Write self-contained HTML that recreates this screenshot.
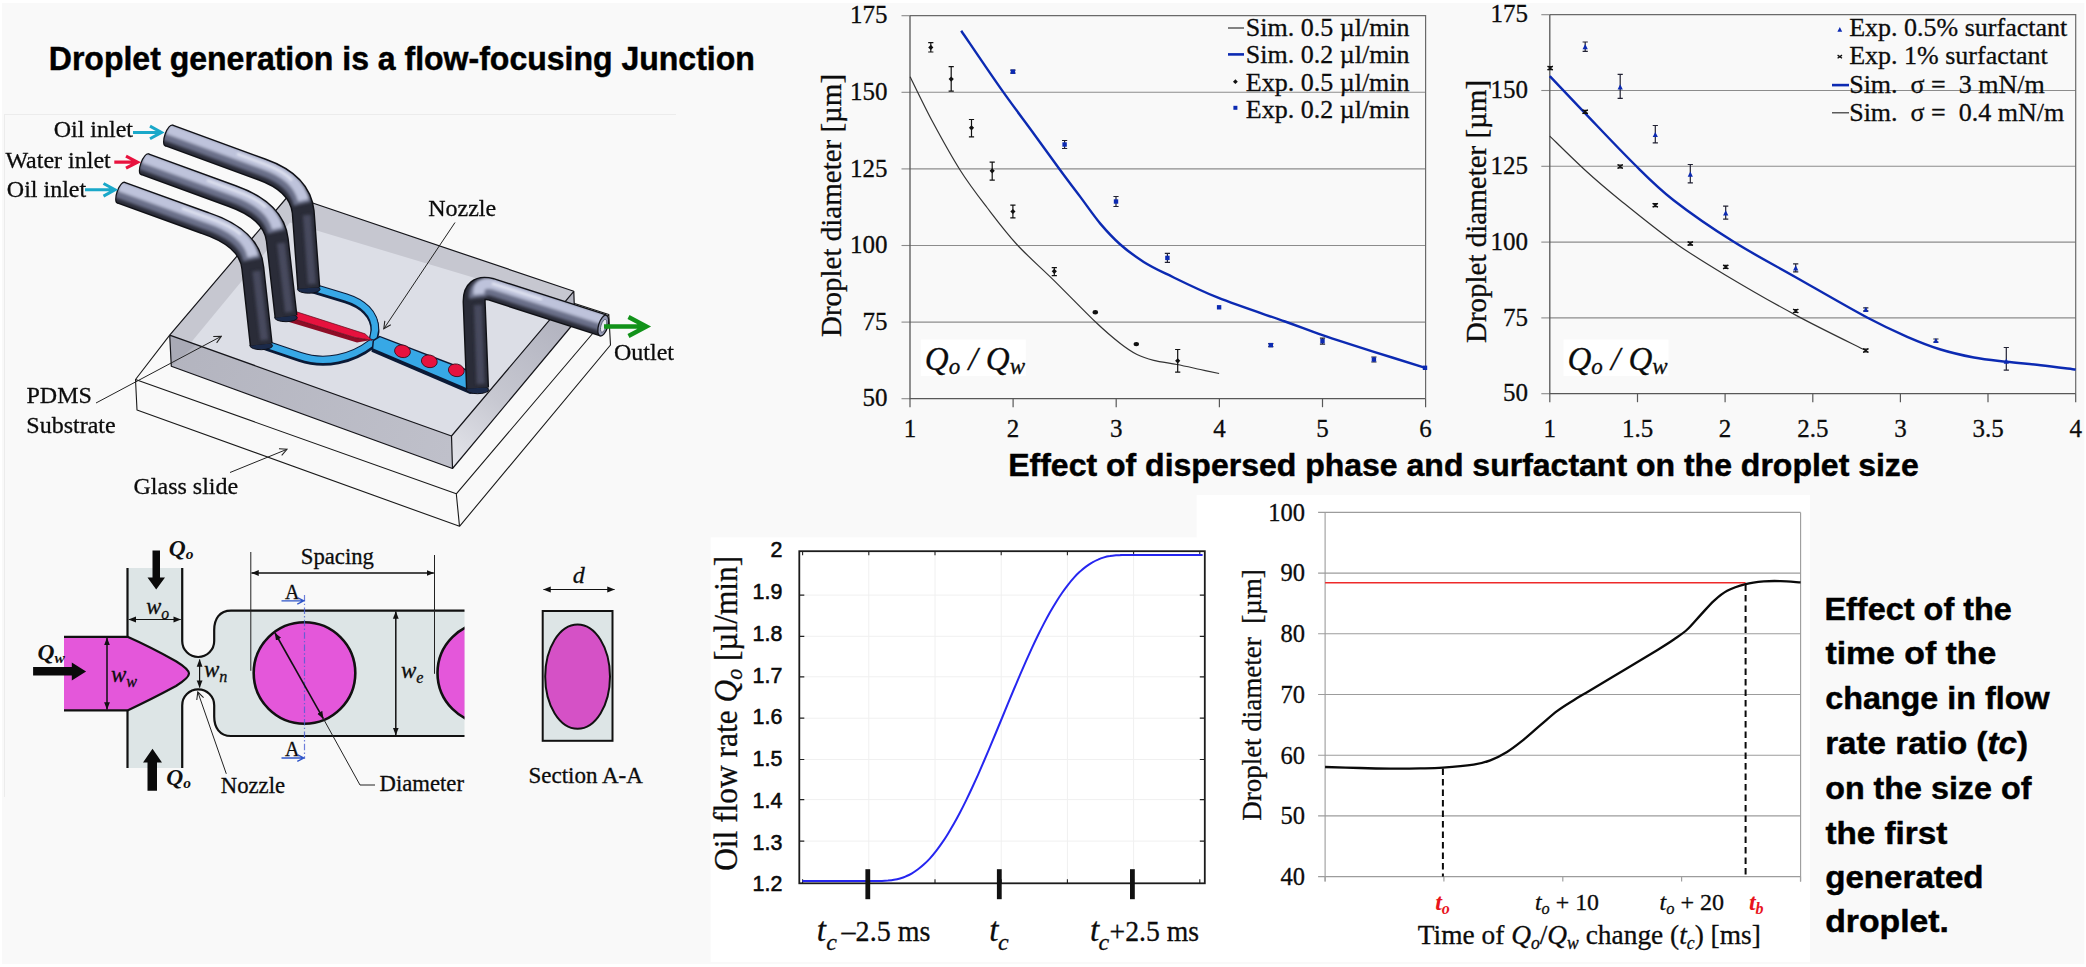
<!DOCTYPE html>
<html lang="en"><head><meta charset="utf-8"><title>Droplet generation in a flow-focusing junction</title>
<style>
html,body{margin:0;padding:0;background:#f9f9f9;}
body{width:2086px;height:967px;overflow:hidden;position:relative;}
svg{position:absolute;left:0;top:0;display:block;}
text{white-space:pre;}
.se{font-family:"Liberation Serif","DejaVu Serif",serif;fill:#0c0c0c;stroke:#0c0c0c;stroke-width:0.3px;}
.si{font-family:"Liberation Serif","DejaVu Serif",serif;font-style:italic;fill:#0c0c0c;stroke:#0c0c0c;stroke-width:0.3px;}
.sbi{font-family:"Liberation Serif","DejaVu Serif",serif;font-style:italic;font-weight:bold;fill:#111;}
.sa{font-family:"Liberation Sans","DejaVu Sans",sans-serif;font-weight:bold;fill:#000;stroke:#000;stroke-width:0.45px;}
.sai{font-family:"Liberation Sans","DejaVu Sans",sans-serif;font-weight:bold;font-style:italic;fill:#000;}
</style></head><body>
<svg width="2086" height="967" viewBox="0 0 2086 967">
<defs>
<marker id="ah" viewBox="0 0 10 10" refX="9.5" refY="5" markerWidth="7.6" markerHeight="8" orient="auto-start-reverse" markerUnits="userSpaceOnUse"><path d="M0,1.2 L10,5 L0,8.8 z" fill="#111"/></marker>
<marker id="aho" viewBox="0 0 10 10" refX="9" refY="5" markerWidth="9" markerHeight="9" orient="auto-start-reverse" markerUnits="userSpaceOnUse"><path d="M1,1 L9,5 L1,9" fill="none" stroke="#222" stroke-width="1.2"/></marker>
<linearGradient id="tubeV" x1="0" x2="1" y1="0" y2="0"><stop offset="0" stop-color="#23252f"/><stop offset="0.45" stop-color="#3a3d4c"/><stop offset="0.8" stop-color="#6e7389"/><stop offset="1" stop-color="#3b3e4d"/></linearGradient>
</defs>
<rect x="0" y="0" width="2086" height="967" fill="#ffffff"/>
<rect x="2" y="3" width="2082.3" height="961" fill="#f9f9f9"/>
<rect x="4" y="114" width="672" height="1" fill="#ececec"/>
<rect x="4" y="114" width="1" height="683" fill="#ececec"/>
<rect x="710.7" y="537.4" width="500" height="424.6" fill="#ffffff"/>
<rect x="1196.7" y="495" width="613.3" height="467" fill="#ffffff"/>
<text x="48.8" y="70.0" font-size="32.5" class="sa" textLength="706.0" lengthAdjust="spacingAndGlyphs" >Droplet generation is a flow-focusing Junction</text>
<text x="1008.2" y="476.0" font-size="31.8" class="sa" textLength="910.5" lengthAdjust="spacingAndGlyphs" >Effect of dispersed phase and surfactant on the droplet size</text>
<text x="1824.4" y="619.6" font-size="31.8" class="sa" textLength="187.5" lengthAdjust="spacingAndGlyphs" >Effect of the</text>
<text x="1825.4" y="664.4" font-size="31.8" class="sa" textLength="170.9" lengthAdjust="spacingAndGlyphs" >time of the</text>
<text x="1825.2" y="709.2" font-size="31.8" class="sa" textLength="224.4" lengthAdjust="spacingAndGlyphs" >change in flow</text>
<text x="1825.2" y="753.8" font-size="31.8" class="sa" textLength="202.8" lengthAdjust="spacingAndGlyphs">rate ratio (<tspan font-style="italic">tc</tspan>)</text>
<text x="1825.2" y="798.9" font-size="31.8" class="sa" textLength="206.2" lengthAdjust="spacingAndGlyphs" >on the size of</text>
<text x="1825.4" y="843.7" font-size="31.8" class="sa" textLength="122.0" lengthAdjust="spacingAndGlyphs" >the first</text>
<text x="1825.2" y="888.1" font-size="31.8" class="sa" textLength="158.4" lengthAdjust="spacingAndGlyphs" >generated</text>
<text x="1825.2" y="932.4" font-size="31.8" class="sa" textLength="123.8" lengthAdjust="spacingAndGlyphs" >droplet.</text>
<line x1="901.5" x2="910.0" y1="15.7" y2="15.7" stroke="#8a8a8a" stroke-width="1.1"/>
<text x="887.4" y="23.3" font-size="25" class="se" text-anchor="end" >175</text>
<line x1="910.0" x2="1425.6" y1="92.3" y2="92.3" stroke="#8c8c8c" stroke-width="1.1"/>
<line x1="901.5" x2="910.0" y1="92.3" y2="92.3" stroke="#8a8a8a" stroke-width="1.1"/>
<text x="887.4" y="99.9" font-size="25" class="se" text-anchor="end" >150</text>
<line x1="910.0" x2="1425.6" y1="168.9" y2="168.9" stroke="#8c8c8c" stroke-width="1.1"/>
<line x1="901.5" x2="910.0" y1="168.9" y2="168.9" stroke="#8a8a8a" stroke-width="1.1"/>
<text x="887.4" y="176.5" font-size="25" class="se" text-anchor="end" >125</text>
<line x1="910.0" x2="1425.6" y1="245.5" y2="245.5" stroke="#8c8c8c" stroke-width="1.1"/>
<line x1="901.5" x2="910.0" y1="245.5" y2="245.5" stroke="#8a8a8a" stroke-width="1.1"/>
<text x="887.4" y="253.1" font-size="25" class="se" text-anchor="end" >100</text>
<line x1="910.0" x2="1425.6" y1="322.1" y2="322.1" stroke="#8c8c8c" stroke-width="1.1"/>
<line x1="901.5" x2="910.0" y1="322.1" y2="322.1" stroke="#8a8a8a" stroke-width="1.1"/>
<text x="887.4" y="329.7" font-size="25" class="se" text-anchor="end" >75</text>
<line x1="901.5" x2="910.0" y1="398.7" y2="398.7" stroke="#8a8a8a" stroke-width="1.1"/>
<text x="887.4" y="406.3" font-size="25" class="se" text-anchor="end" >50</text>
<path d="M910.0,15.7 H1425.6 V398.7" fill="none" stroke="#6a6a6a" stroke-width="1.2"/>
<path d="M910.0,15.7 V398.7 H1425.6" fill="none" stroke="#585858" stroke-width="1.3"/>
<line x1="910.0" x2="910.0" y1="398.7" y2="407.2" stroke="#585858" stroke-width="1.2"/>
<text x="910.0" y="436.8" font-size="25" class="se" text-anchor="middle" >1</text>
<line x1="1013.1" x2="1013.1" y1="398.7" y2="407.2" stroke="#585858" stroke-width="1.2"/>
<text x="1013.1" y="436.8" font-size="25" class="se" text-anchor="middle" >2</text>
<line x1="1116.2" x2="1116.2" y1="398.7" y2="407.2" stroke="#585858" stroke-width="1.2"/>
<text x="1116.2" y="436.8" font-size="25" class="se" text-anchor="middle" >3</text>
<line x1="1219.4" x2="1219.4" y1="398.7" y2="407.2" stroke="#585858" stroke-width="1.2"/>
<text x="1219.4" y="436.8" font-size="25" class="se" text-anchor="middle" >4</text>
<line x1="1322.5" x2="1322.5" y1="398.7" y2="407.2" stroke="#585858" stroke-width="1.2"/>
<text x="1322.5" y="436.8" font-size="25" class="se" text-anchor="middle" >5</text>
<line x1="1425.6" x2="1425.6" y1="398.7" y2="407.2" stroke="#585858" stroke-width="1.2"/>
<text x="1425.6" y="436.8" font-size="25" class="se" text-anchor="middle" >6</text>
<text transform="translate(840.5,205.5) rotate(-90)" font-size="29" class="se" text-anchor="middle">Droplet diameter [µm]</text>
<rect x="920.8" y="339.5" width="105" height="36.5" fill="#fff"/>
<text x="924.8" y="370.0" font-size="33" class="si"><tspan>Q</tspan><tspan font-size="23" dy="4">o</tspan><tspan dy="-4"> / Q</tspan><tspan font-size="23" dy="4">w</tspan></text>
<path d="M910.1,76.7 C913.9,84.3 924.6,106.9 933.0,122.5 C941.4,138.1 951.2,156.0 960.2,170.2 C969.2,184.4 977.5,195.1 987.0,207.5 C996.5,219.9 1005.8,232.4 1016.9,244.5 C1028.0,256.6 1040.5,267.2 1053.6,280.1 C1066.7,293.0 1084.2,311.2 1095.3,321.8 C1106.4,332.4 1113.3,338.1 1120.3,343.5 C1127.2,348.9 1131.4,351.7 1137.0,354.5 C1142.6,357.3 1147.0,358.6 1153.7,360.3 C1160.4,362.0 1169.2,363.0 1177.0,364.5 C1184.8,366.0 1193.4,368.0 1200.4,369.5 C1207.4,371.0 1216.0,372.8 1219.1,373.5" fill="none" stroke="#333" stroke-width="1.2"/>
<path d="M961.2,30.7 C968.0,40.6 989.8,73.0 1001.9,90.1 C1014.0,107.2 1023.9,120.2 1033.6,133.5 C1043.3,146.8 1052.5,159.6 1060.3,170.2 C1068.1,180.8 1073.6,188.0 1080.3,196.9 C1087.0,205.8 1093.6,215.7 1100.3,223.6 C1107.0,231.5 1113.1,238.1 1120.3,244.5 C1127.5,250.9 1135.9,256.9 1143.7,261.9 C1151.5,266.8 1154.6,268.2 1167.0,274.2 C1179.4,280.2 1198.3,289.8 1218.0,297.7 C1237.7,305.6 1267.6,315.3 1285.0,321.5 C1302.4,327.7 1307.7,330.1 1322.5,335.1 C1337.3,340.2 1356.8,346.4 1373.9,351.8 C1391.0,357.2 1416.7,365.1 1425.3,367.8" fill="none" stroke="#0c2ab2" stroke-width="2.4" stroke-linejoin="round"/>
<path d="M930.8,42.7 V52.0 M928.2,42.7 h5.2 M928.2,52.0 h5.2" stroke="#111" stroke-width="1.2" fill="none"/>
<path d="M928.2,47.4 l2.6,-2.6 l2.6,2.6 l-2.6,2.6 z" fill="#111"/>
<path d="M951.2,66.7 V91.1 M948.6,66.7 h5.2 M948.6,91.1 h5.2" stroke="#111" stroke-width="1.2" fill="none"/>
<path d="M948.6,79.1 l2.6,-2.6 l2.6,2.6 l-2.6,2.6 z" fill="#111"/>
<path d="M971.5,119.5 V136.8 M968.9,119.5 h5.2 M968.9,136.8 h5.2" stroke="#111" stroke-width="1.2" fill="none"/>
<path d="M968.9,127.8 l2.6,-2.6 l2.6,2.6 l-2.6,2.6 z" fill="#111"/>
<path d="M992.2,162.2 V180.2 M989.6,162.2 h5.2 M989.6,180.2 h5.2" stroke="#111" stroke-width="1.2" fill="none"/>
<path d="M989.6,170.8 l2.6,-2.6 l2.6,2.6 l-2.6,2.6 z" fill="#111"/>
<path d="M1012.9,205.2 V217.9 M1010.3,205.2 h5.2 M1010.3,217.9 h5.2" stroke="#111" stroke-width="1.2" fill="none"/>
<path d="M1010.3,211.5 l2.6,-2.6 l2.6,2.6 l-2.6,2.6 z" fill="#111"/>
<path d="M1054.3,267.6 V275.6 M1051.7,267.6 h5.2 M1051.7,275.6 h5.2" stroke="#111" stroke-width="1.2" fill="none"/>
<path d="M1051.7,271.3 l2.6,-2.6 l2.6,2.6 l-2.6,2.6 z" fill="#111"/>
<ellipse cx="1095.3" cy="312.3" rx="2.7" ry="2.2" fill="#111"/>
<ellipse cx="1136.3" cy="344.1" rx="2.7" ry="2.2" fill="#111"/>
<path d="M1177.7,349.5 V372.2 M1175.1,349.5 h5.2 M1175.1,372.2 h5.2" stroke="#111" stroke-width="1.2" fill="none"/>
<path d="M1175.1,360.8 l2.6,-2.6 l2.6,2.6 l-2.6,2.6 z" fill="#111"/>
<path d="M1012.9,70.2 V73.2 M1010.3,70.2 h5.2 M1010.3,73.2 h5.2" stroke="#223" stroke-width="1.2" fill="none"/>
<rect x="1010.7" y="69.5" width="4.4" height="4.4" fill="#0c2ab2"/>
<path d="M1064.6,140.5 V148.5 M1062.0,140.5 h5.2 M1062.0,148.5 h5.2" stroke="#223" stroke-width="1.2" fill="none"/>
<rect x="1062.4" y="142.3" width="4.4" height="4.4" fill="#0c2ab2"/>
<path d="M1116.0,196.5 V206.5 M1113.4,196.5 h5.2 M1113.4,206.5 h5.2" stroke="#223" stroke-width="1.2" fill="none"/>
<rect x="1113.8" y="199.3" width="4.4" height="4.4" fill="#0c2ab2"/>
<path d="M1167.4,253.4 V262.4 M1164.8,253.4 h5.2 M1164.8,262.4 h5.2" stroke="#223" stroke-width="1.2" fill="none"/>
<rect x="1165.2" y="255.7" width="4.4" height="4.4" fill="#0c2ab2"/>
<rect x="1216.9" y="305.1" width="4.4" height="4.4" fill="#0c2ab2"/>
<path d="M1270.8,343.6 V346.6 M1268.2,343.6 h5.2 M1268.2,346.6 h5.2" stroke="#223" stroke-width="1.2" fill="none"/>
<rect x="1268.6" y="342.9" width="4.4" height="4.4" fill="#0c2ab2"/>
<path d="M1322.5,338.1 V344.1 M1319.9,338.1 h5.2 M1319.9,344.1 h5.2" stroke="#223" stroke-width="1.2" fill="none"/>
<rect x="1320.3" y="338.9" width="4.4" height="4.4" fill="#0c2ab2"/>
<path d="M1373.9,357.0 V362.0 M1371.3,357.0 h5.2 M1371.3,362.0 h5.2" stroke="#223" stroke-width="1.2" fill="none"/>
<rect x="1371.7" y="357.3" width="4.4" height="4.4" fill="#0c2ab2"/>
<rect x="1422.8" y="365.6" width="4.4" height="4.4" fill="#0c2ab2"/>
<text x="1245.8" y="36.0" font-size="26" class="se" >Sim. 0.5 µl/min</text>
<text x="1245.8" y="63.3" font-size="26" class="se" >Sim. 0.2 µl/min</text>
<text x="1245.8" y="90.6" font-size="26" class="se" >Exp. 0.5 µl/min</text>
<text x="1245.8" y="117.9" font-size="26" class="se" >Exp. 0.2 µl/min</text>
<line x1="1228" x2="1244" y1="28" y2="28" stroke="#333" stroke-width="1.2"/>
<line x1="1228" x2="1244" y1="54.4" y2="54.4" stroke="#0c2ab2" stroke-width="2.6"/>
<path d="M1233.0,81.7 l2.4,-2.4 l2.4,2.4 l-2.4,2.4 z" fill="#111"/>
<rect x="1233.4" y="105.8" width="4.0" height="4.0" fill="#0c2ab2"/>
<line x1="1541.3" x2="1549.8" y1="14.7" y2="14.7" stroke="#8a8a8a" stroke-width="1.1"/>
<text x="1528.0" y="22.3" font-size="25" class="se" text-anchor="end" >175</text>
<line x1="1549.8" x2="2075.7" y1="90.5" y2="90.5" stroke="#8c8c8c" stroke-width="1.1"/>
<line x1="1541.3" x2="1549.8" y1="90.5" y2="90.5" stroke="#8a8a8a" stroke-width="1.1"/>
<text x="1528.0" y="98.1" font-size="25" class="se" text-anchor="end" >150</text>
<line x1="1549.8" x2="2075.7" y1="166.3" y2="166.3" stroke="#8c8c8c" stroke-width="1.1"/>
<line x1="1541.3" x2="1549.8" y1="166.3" y2="166.3" stroke="#8a8a8a" stroke-width="1.1"/>
<text x="1528.0" y="173.9" font-size="25" class="se" text-anchor="end" >125</text>
<line x1="1549.8" x2="2075.7" y1="242.1" y2="242.1" stroke="#8c8c8c" stroke-width="1.1"/>
<line x1="1541.3" x2="1549.8" y1="242.1" y2="242.1" stroke="#8a8a8a" stroke-width="1.1"/>
<text x="1528.0" y="249.7" font-size="25" class="se" text-anchor="end" >100</text>
<line x1="1549.8" x2="2075.7" y1="317.9" y2="317.9" stroke="#8c8c8c" stroke-width="1.1"/>
<line x1="1541.3" x2="1549.8" y1="317.9" y2="317.9" stroke="#8a8a8a" stroke-width="1.1"/>
<text x="1528.0" y="325.5" font-size="25" class="se" text-anchor="end" >75</text>
<line x1="1541.3" x2="1549.8" y1="393.7" y2="393.7" stroke="#8a8a8a" stroke-width="1.1"/>
<text x="1528.0" y="401.3" font-size="25" class="se" text-anchor="end" >50</text>
<path d="M1549.8,14.7 H2075.7 V393.7" fill="none" stroke="#6a6a6a" stroke-width="1.2"/>
<path d="M1549.8,14.7 V393.7 H2075.7" fill="none" stroke="#585858" stroke-width="1.3"/>
<line x1="1549.8" x2="1549.8" y1="393.7" y2="402.2" stroke="#585858" stroke-width="1.2"/>
<text x="1549.8" y="437.2" font-size="25" class="se" text-anchor="middle" >1</text>
<line x1="1637.5" x2="1637.5" y1="393.7" y2="402.2" stroke="#585858" stroke-width="1.2"/>
<text x="1637.5" y="437.2" font-size="25" class="se" text-anchor="middle" >1.5</text>
<line x1="1725.1" x2="1725.1" y1="393.7" y2="402.2" stroke="#585858" stroke-width="1.2"/>
<text x="1725.1" y="437.2" font-size="25" class="se" text-anchor="middle" >2</text>
<line x1="1812.8" x2="1812.8" y1="393.7" y2="402.2" stroke="#585858" stroke-width="1.2"/>
<text x="1812.8" y="437.2" font-size="25" class="se" text-anchor="middle" >2.5</text>
<line x1="1900.4" x2="1900.4" y1="393.7" y2="402.2" stroke="#585858" stroke-width="1.2"/>
<text x="1900.4" y="437.2" font-size="25" class="se" text-anchor="middle" >3</text>
<line x1="1988.0" x2="1988.0" y1="393.7" y2="402.2" stroke="#585858" stroke-width="1.2"/>
<text x="1988.0" y="437.2" font-size="25" class="se" text-anchor="middle" >3.5</text>
<line x1="2075.7" x2="2075.7" y1="393.7" y2="402.2" stroke="#585858" stroke-width="1.2"/>
<text x="2075.7" y="437.2" font-size="25" class="se" text-anchor="middle" >4</text>
<text transform="translate(1486.3,211.5) rotate(-90)" font-size="29" class="se" text-anchor="middle">Droplet diameter [µm]</text>
<rect x="1563.5" y="339.5" width="105" height="36.5" fill="#fff"/>
<text x="1567.5" y="370.0" font-size="33" class="si"><tspan>Q</tspan><tspan font-size="23" dy="4">o</tspan><tspan dy="-4"> / Q</tspan><tspan font-size="23" dy="4">w</tspan></text>
<path d="M1549.8,136.1 C1555.7,141.8 1573.5,159.5 1585.2,170.2 C1596.9,180.9 1605.5,188.2 1620.2,200.2 C1634.9,212.1 1656.0,229.4 1673.6,241.9 C1691.2,254.4 1705.3,263.0 1725.7,275.2 C1746.1,287.4 1772.4,302.6 1795.7,315.1 C1819.0,327.7 1854.1,344.6 1865.8,350.5" fill="none" stroke="#333" stroke-width="1.2"/>
<path d="M1549.8,76.1 C1555.7,82.3 1571.2,98.8 1585.2,113.4 C1599.2,128.0 1618.9,149.0 1633.6,163.5 C1648.3,178.0 1656.9,187.1 1673.6,200.2 C1690.3,213.2 1713.3,229.0 1733.7,241.8 C1754.1,254.6 1773.5,264.6 1795.7,277.2 C1817.9,289.8 1848.5,307.6 1867.1,317.5 C1885.7,327.4 1895.0,331.5 1907.2,336.8 C1919.5,342.1 1929.5,346.1 1940.6,349.5 C1951.7,352.9 1963.0,355.4 1973.9,357.5 C1984.9,359.6 1995.2,360.5 2006.3,361.8 C2017.4,363.1 2029.1,363.9 2040.7,365.2 C2052.3,366.5 2069.9,368.8 2075.7,369.5" fill="none" stroke="#0c2ab2" stroke-width="2.4"/>
<path d="M1585.2,42.0 V51.4 M1582.6,42.0 h5.2 M1582.6,51.4 h5.2" stroke="#223" stroke-width="1.2" fill="none"/>
<path d="M1585.2,44.1 L1587.8,49.3 L1582.6,49.3 z" fill="#0c2ab2"/>
<path d="M1620.2,74.4 V98.4 M1617.6,74.4 h5.2 M1617.6,98.4 h5.2" stroke="#223" stroke-width="1.2" fill="none"/>
<path d="M1620.2,84.2 L1622.8,89.4 L1617.6,89.4 z" fill="#0c2ab2"/>
<path d="M1655.3,125.5 V142.8 M1652.7,125.5 h5.2 M1652.7,142.8 h5.2" stroke="#223" stroke-width="1.2" fill="none"/>
<path d="M1655.3,131.9 L1657.9,137.1 L1652.7,137.1 z" fill="#0c2ab2"/>
<path d="M1690.3,164.5 V182.9 M1687.7,164.5 h5.2 M1687.7,182.9 h5.2" stroke="#223" stroke-width="1.2" fill="none"/>
<path d="M1690.3,171.6 L1692.9,176.8 L1687.7,176.8 z" fill="#0c2ab2"/>
<path d="M1725.7,206.2 V219.2 M1723.1,206.2 h5.2 M1723.1,219.2 h5.2" stroke="#223" stroke-width="1.2" fill="none"/>
<path d="M1725.7,210.3 L1728.3,215.5 L1723.1,215.5 z" fill="#0c2ab2"/>
<path d="M1795.7,263.9 V271.9 M1793.1,263.9 h5.2 M1793.1,271.9 h5.2" stroke="#223" stroke-width="1.2" fill="none"/>
<path d="M1795.7,265.3 L1798.3,270.5 L1793.1,270.5 z" fill="#0c2ab2"/>
<path d="M1865.8,307.8 V310.8 M1863.2,307.8 h5.2 M1863.2,310.8 h5.2" stroke="#223" stroke-width="1.2" fill="none"/>
<path d="M1865.8,306.7 L1868.4,311.9 L1863.2,311.9 z" fill="#0c2ab2"/>
<path d="M1935.9,339.0 V342.0 M1933.3,339.0 h5.2 M1933.3,342.0 h5.2" stroke="#223" stroke-width="1.2" fill="none"/>
<path d="M1935.9,337.9 L1938.5,343.1 L1933.3,343.1 z" fill="#0c2ab2"/>
<path d="M2006.3,347.5 V370.2 M2003.7,347.5 h5.2 M2003.7,370.2 h5.2" stroke="#223" stroke-width="1.2" fill="none"/>
<path d="M2006.3,358.6 L2008.9,363.8 L2003.7,363.8 z" fill="#0c2ab2"/>
<path d="M1550.2,66.6 V69.6 M1547.6,66.6 h5.2 M1547.6,69.6 h5.2" stroke="#111" stroke-width="1.2" fill="none"/>
<path d="M1547.6,66.1 L1552.8,70.1 M1547.6,70.1 L1552.8,66.1" stroke="#111" stroke-width="1.3" fill="none"/>
<path d="M1585.2,110.3 V113.3 M1582.6,110.3 h5.2 M1582.6,113.3 h5.2" stroke="#111" stroke-width="1.2" fill="none"/>
<path d="M1582.6,109.8 L1587.8,113.8 M1582.6,113.8 L1587.8,109.8" stroke="#111" stroke-width="1.3" fill="none"/>
<path d="M1620.2,165.0 V168.0 M1617.6,165.0 h5.2 M1617.6,168.0 h5.2" stroke="#111" stroke-width="1.2" fill="none"/>
<path d="M1617.6,164.5 L1622.8,168.5 M1617.6,168.5 L1622.8,164.5" stroke="#111" stroke-width="1.3" fill="none"/>
<path d="M1655.3,203.7 V206.7 M1652.7,203.7 h5.2 M1652.7,206.7 h5.2" stroke="#111" stroke-width="1.2" fill="none"/>
<path d="M1652.7,203.2 L1657.9,207.2 M1652.7,207.2 L1657.9,203.2" stroke="#111" stroke-width="1.3" fill="none"/>
<path d="M1690.3,242.1 V245.1 M1687.7,242.1 h5.2 M1687.7,245.1 h5.2" stroke="#111" stroke-width="1.2" fill="none"/>
<path d="M1687.7,241.6 L1692.9,245.6 M1687.7,245.6 L1692.9,241.6" stroke="#111" stroke-width="1.3" fill="none"/>
<path d="M1725.7,265.4 V268.4 M1723.1,265.4 h5.2 M1723.1,268.4 h5.2" stroke="#111" stroke-width="1.2" fill="none"/>
<path d="M1723.1,264.9 L1728.3,268.9 M1723.1,268.9 L1728.3,264.9" stroke="#111" stroke-width="1.3" fill="none"/>
<path d="M1795.7,309.5 V312.5 M1793.1,309.5 h5.2 M1793.1,312.5 h5.2" stroke="#111" stroke-width="1.2" fill="none"/>
<path d="M1793.1,309.0 L1798.3,313.0 M1793.1,313.0 L1798.3,309.0" stroke="#111" stroke-width="1.3" fill="none"/>
<path d="M1865.8,349.0 V352.0 M1863.2,349.0 h5.2 M1863.2,352.0 h5.2" stroke="#111" stroke-width="1.2" fill="none"/>
<path d="M1863.2,348.5 L1868.4,352.5 M1863.2,352.5 L1868.4,348.5" stroke="#111" stroke-width="1.3" fill="none"/>
<text x="1849.2" y="36.0" font-size="26" class="se" >Exp. 0.5% surfactant</text>
<text x="1849.2" y="64.4" font-size="26" class="se" >Exp. 1% surfactant</text>
<text x="1849.2" y="92.8" font-size="26" class="se" >Sim.  σ =  3 mN/m</text>
<text x="1849.2" y="121.2" font-size="26" class="se" >Sim.  σ =  0.4 mN/m</text>
<path d="M1839.8,27.0 L1842.2,31.8 L1837.4,31.8 z" fill="#0c2ab2"/>
<path d="M1837.6,55.1 L1842.0,58.3 M1837.6,58.3 L1842.0,55.1" stroke="#111" stroke-width="1.3" fill="none"/>
<line x1="1832" x2="1849" y1="85.1" y2="85.1" stroke="#0c2ab2" stroke-width="2.6"/>
<line x1="1832" x2="1849" y1="112.8" y2="112.8" stroke="#333" stroke-width="1.2"/>
<text x="782.3" y="557.2" font-size="21.4" text-anchor="end" style="font-family:'Liberation Sans','DejaVu Sans',sans-serif;fill:#0a0a0a;stroke:#0a0a0a;stroke-width:0.55px">2</text>
<line x1="799.3" x2="1204.8" y1="595.1" y2="595.1" stroke="#f0f0f0" stroke-width="1"/>
<path d="M799.3,595.1 h5 M1204.8,595.1 h-5" stroke="#222" stroke-width="1.2"/>
<text x="782.3" y="599.0" font-size="21.4" text-anchor="end" style="font-family:'Liberation Sans','DejaVu Sans',sans-serif;fill:#0a0a0a;stroke:#0a0a0a;stroke-width:0.55px">1.9</text>
<line x1="799.3" x2="1204.8" y1="636.3" y2="636.3" stroke="#f0f0f0" stroke-width="1"/>
<path d="M799.3,636.3 h5 M1204.8,636.3 h-5" stroke="#222" stroke-width="1.2"/>
<text x="782.3" y="640.7" font-size="21.4" text-anchor="end" style="font-family:'Liberation Sans','DejaVu Sans',sans-serif;fill:#0a0a0a;stroke:#0a0a0a;stroke-width:0.55px">1.8</text>
<line x1="799.3" x2="1204.8" y1="676.8" y2="676.8" stroke="#f0f0f0" stroke-width="1"/>
<path d="M799.3,676.8 h5 M1204.8,676.8 h-5" stroke="#222" stroke-width="1.2"/>
<text x="782.3" y="682.5" font-size="21.4" text-anchor="end" style="font-family:'Liberation Sans','DejaVu Sans',sans-serif;fill:#0a0a0a;stroke:#0a0a0a;stroke-width:0.55px">1.7</text>
<line x1="799.3" x2="1204.8" y1="718.2" y2="718.2" stroke="#f0f0f0" stroke-width="1"/>
<path d="M799.3,718.2 h5 M1204.8,718.2 h-5" stroke="#222" stroke-width="1.2"/>
<text x="782.3" y="724.2" font-size="21.4" text-anchor="end" style="font-family:'Liberation Sans','DejaVu Sans',sans-serif;fill:#0a0a0a;stroke:#0a0a0a;stroke-width:0.55px">1.6</text>
<line x1="799.3" x2="1204.8" y1="759.5" y2="759.5" stroke="#f0f0f0" stroke-width="1"/>
<path d="M799.3,759.5 h5 M1204.8,759.5 h-5" stroke="#222" stroke-width="1.2"/>
<text x="782.3" y="766.0" font-size="21.4" text-anchor="end" style="font-family:'Liberation Sans','DejaVu Sans',sans-serif;fill:#0a0a0a;stroke:#0a0a0a;stroke-width:0.55px">1.5</text>
<line x1="799.3" x2="1204.8" y1="799.6" y2="799.6" stroke="#f0f0f0" stroke-width="1"/>
<path d="M799.3,799.6 h5 M1204.8,799.6 h-5" stroke="#222" stroke-width="1.2"/>
<text x="782.3" y="807.7" font-size="21.4" text-anchor="end" style="font-family:'Liberation Sans','DejaVu Sans',sans-serif;fill:#0a0a0a;stroke:#0a0a0a;stroke-width:0.55px">1.4</text>
<line x1="799.3" x2="1204.8" y1="841.1" y2="841.1" stroke="#f0f0f0" stroke-width="1"/>
<path d="M799.3,841.1 h5 M1204.8,841.1 h-5" stroke="#222" stroke-width="1.2"/>
<text x="782.3" y="849.5" font-size="21.4" text-anchor="end" style="font-family:'Liberation Sans','DejaVu Sans',sans-serif;fill:#0a0a0a;stroke:#0a0a0a;stroke-width:0.55px">1.3</text>
<text x="782.3" y="891.2" font-size="21.4" text-anchor="end" style="font-family:'Liberation Sans','DejaVu Sans',sans-serif;fill:#0a0a0a;stroke:#0a0a0a;stroke-width:0.55px">1.2</text>
<path d="M802.6,551.2 v4 M802.6,883.3 v-4" stroke="#222" stroke-width="1.1"/>
<line x1="868.8" x2="868.8" y1="551.2" y2="883.3" stroke="#f0f0f0" stroke-width="1"/>
<path d="M868.8,551.2 v4 M868.8,883.3 v-4" stroke="#222" stroke-width="1.1"/>
<line x1="935.0" x2="935.0" y1="551.2" y2="883.3" stroke="#f0f0f0" stroke-width="1"/>
<path d="M935.0,551.2 v4 M935.0,883.3 v-4" stroke="#222" stroke-width="1.1"/>
<line x1="1001.2" x2="1001.2" y1="551.2" y2="883.3" stroke="#f0f0f0" stroke-width="1"/>
<path d="M1001.2,551.2 v4 M1001.2,883.3 v-4" stroke="#222" stroke-width="1.1"/>
<line x1="1067.4" x2="1067.4" y1="551.2" y2="883.3" stroke="#f0f0f0" stroke-width="1"/>
<path d="M1067.4,551.2 v4 M1067.4,883.3 v-4" stroke="#222" stroke-width="1.1"/>
<line x1="1133.6" x2="1133.6" y1="551.2" y2="883.3" stroke="#f0f0f0" stroke-width="1"/>
<path d="M1133.6,551.2 v4 M1133.6,883.3 v-4" stroke="#222" stroke-width="1.1"/>
<path d="M1199.8,551.2 v4 M1199.8,883.3 v-4" stroke="#222" stroke-width="1.1"/>
<rect x="799.3" y="551.2" width="405.5" height="332.1" fill="none" stroke="#1c1c1c" stroke-width="1.8"/>
<path d="M802.4,880.9 C814.7,880.9 862.7,880.9 876.0,880.9 C889.3,880.9 880.0,880.9 882.0,880.9 C884.0,880.8 886.0,880.7 888.0,880.6 C890.0,880.4 892.0,880.2 894.0,879.8 C896.0,879.5 898.0,879.1 900.0,878.5 C902.0,877.9 904.0,877.2 906.0,876.3 C908.0,875.5 910.0,874.5 912.0,873.3 C914.0,872.2 916.0,870.8 918.0,869.3 C920.0,867.8 922.0,866.2 924.0,864.3 C926.0,862.5 928.0,860.5 930.0,858.3 C932.0,856.1 934.0,853.7 936.0,851.1 C938.0,848.6 940.0,845.8 942.0,842.9 C944.0,840.0 946.0,837.0 948.0,833.7 C950.0,830.5 952.0,827.1 954.0,823.6 C956.0,820.0 958.0,816.3 960.0,812.5 C962.0,808.7 964.0,804.7 966.0,800.6 C968.0,796.5 970.0,792.3 972.0,788.0 C974.0,783.7 976.0,779.3 978.0,774.8 C980.0,770.3 982.0,765.7 984.0,761.0 C986.0,756.4 988.0,751.6 990.0,746.9 C992.0,742.1 994.0,737.3 996.0,732.5 C998.0,727.7 1000.0,722.8 1002.0,718.0 C1004.0,713.1 1006.0,708.2 1008.0,703.4 C1010.0,698.6 1012.0,693.8 1014.0,689.0 C1016.0,684.3 1018.0,679.5 1020.0,674.9 C1022.0,670.2 1024.0,665.6 1026.0,661.1 C1028.0,656.6 1030.0,652.2 1032.0,647.9 C1034.0,643.6 1036.0,639.4 1038.0,635.3 C1040.0,631.2 1042.0,627.2 1044.0,623.4 C1046.0,619.6 1048.0,615.9 1050.0,612.3 C1052.0,608.8 1054.0,605.4 1056.0,602.2 C1058.0,598.9 1060.0,595.9 1062.0,593.0 C1064.0,590.1 1066.0,587.3 1068.0,584.8 C1070.0,582.2 1072.0,579.8 1074.0,577.6 C1076.0,575.4 1078.0,573.4 1080.0,571.6 C1082.0,569.7 1084.0,568.1 1086.0,566.6 C1088.0,565.1 1090.0,563.7 1092.0,562.6 C1094.0,561.4 1096.0,560.4 1098.0,559.6 C1100.0,558.7 1102.0,558.0 1104.0,557.4 C1106.0,556.8 1108.0,556.4 1110.0,556.1 C1112.0,555.7 1114.0,555.5 1116.0,555.3 C1118.0,555.2 1120.0,555.1 1122.0,555.0 C1124.0,555.0 1114.6,555.0 1128.0,555.0 C1141.4,555.0 1190.2,555.0 1202.6,555.0" fill="none" stroke="#2626f0" stroke-width="2"/>
<rect x="865.4" y="869.2" width="4.8" height="30" fill="#111"/>
<rect x="996.9" y="869.2" width="4.8" height="30" fill="#111"/>
<rect x="1130.0" y="869.2" width="4.8" height="30" fill="#111"/>
<text transform="translate(736.5,713.3) rotate(-90)" font-size="34.5" class="se" text-anchor="middle" textLength="315" lengthAdjust="spacingAndGlyphs">Oil flow rate <tspan font-style="italic">Q</tspan><tspan font-style="italic" font-size="24" dy="5">o</tspan><tspan dy="-5"> [µl/min]</tspan></text>
<text x="816.8" y="941.1" font-size="33" class="si">t</text><text x="826.3" y="949.9" font-size="24" class="si">c</text>
<text x="841.6" y="941.3" font-size="29" class="se" textLength="88.8" lengthAdjust="spacingAndGlyphs">–2.5 ms</text>
<text x="989.3" y="941.1" font-size="33" class="si">t</text><text x="998.0" y="949.9" font-size="24" class="si">c</text>
<text x="1089.9" y="941.1" font-size="33" class="si">t</text><text x="1098.6" y="949.9" font-size="24" class="si">c</text>
<text x="1109.6" y="941.3" font-size="29" class="se" textLength="89.4" lengthAdjust="spacingAndGlyphs">+2.5 ms</text>
<line x1="1318.1" x2="1800.6" y1="512.4" y2="512.4" stroke="#9c9c9c" stroke-width="1.1"/>
<text x="1305.0" y="520.7" font-size="24.5" class="se" text-anchor="end" >100</text>
<line x1="1318.1" x2="1800.6" y1="573.1" y2="573.1" stroke="#9c9c9c" stroke-width="1.1"/>
<text x="1305.0" y="581.4" font-size="24.5" class="se" text-anchor="end" >90</text>
<line x1="1318.1" x2="1800.6" y1="633.8" y2="633.8" stroke="#9c9c9c" stroke-width="1.1"/>
<text x="1305.0" y="642.1" font-size="24.5" class="se" text-anchor="end" >80</text>
<line x1="1318.1" x2="1800.6" y1="694.5" y2="694.5" stroke="#9c9c9c" stroke-width="1.1"/>
<text x="1305.0" y="702.8" font-size="24.5" class="se" text-anchor="end" >70</text>
<line x1="1318.1" x2="1800.6" y1="755.2" y2="755.2" stroke="#9c9c9c" stroke-width="1.1"/>
<text x="1305.0" y="763.5" font-size="24.5" class="se" text-anchor="end" >60</text>
<line x1="1318.1" x2="1800.6" y1="815.9" y2="815.9" stroke="#9c9c9c" stroke-width="1.1"/>
<text x="1305.0" y="824.2" font-size="24.5" class="se" text-anchor="end" >50</text>
<line x1="1318.1" x2="1800.6" y1="876.6" y2="876.6" stroke="#9c9c9c" stroke-width="1.1"/>
<text x="1305.0" y="884.9" font-size="24.5" class="se" text-anchor="end" >40</text>
<path d="M1325.1,512.4 V881.6 M1800.6,512.4 V881.6" stroke="#9c9c9c" stroke-width="1.1" fill="none"/>
<line x1="1325.1" x2="1325.1" y1="876.6" y2="881.6" stroke="#a0a0a0" stroke-width="1.2"/>
<line x1="1443.9" x2="1443.9" y1="876.6" y2="881.6" stroke="#a0a0a0" stroke-width="1.2"/>
<line x1="1562.8" x2="1562.8" y1="876.6" y2="881.6" stroke="#a0a0a0" stroke-width="1.2"/>
<line x1="1681.6" x2="1681.6" y1="876.6" y2="881.6" stroke="#a0a0a0" stroke-width="1.2"/>
<line x1="1800.5" x2="1800.5" y1="876.6" y2="881.6" stroke="#a0a0a0" stroke-width="1.2"/>
<line x1="1325.1" x2="1745.6" y1="582.8" y2="582.8" stroke="#ee2a2a" stroke-width="1.6"/>
<path d="M1442.9,768.6 V876.6 M1745.6,584.5 V875.5" stroke="#0a0a0a" stroke-width="2" stroke-dasharray="6.5,4" fill="none"/>
<path d="M1325.1,767.0 C1330.9,767.2 1349.2,767.7 1360.0,768.0 C1370.8,768.3 1380.2,768.5 1390.2,768.6 C1400.2,768.7 1411.2,768.6 1420.0,768.4 C1428.8,768.2 1434.0,768.2 1442.9,767.6 C1451.8,767.0 1465.7,765.8 1473.6,764.6 C1481.5,763.4 1484.7,762.4 1490.3,760.3 C1495.9,758.2 1501.4,755.3 1507.0,751.9 C1512.6,748.5 1518.1,744.0 1523.7,739.6 C1529.3,735.2 1534.9,729.9 1540.4,725.2 C1546.0,720.5 1551.5,715.4 1557.0,711.2 C1562.5,707.0 1568.1,703.7 1573.7,700.2 C1579.3,696.7 1582.1,695.2 1590.4,690.2 C1598.8,685.2 1612.7,676.9 1623.8,670.2 C1634.9,663.5 1648.8,655.3 1657.1,650.2 C1665.4,645.1 1668.8,643.0 1673.8,639.5 C1678.8,636.0 1682.8,633.6 1687.2,629.5 C1691.7,625.4 1696.0,619.9 1700.5,615.1 C1705.0,610.3 1709.5,604.8 1713.9,600.8 C1718.4,596.8 1721.9,593.6 1727.2,590.8 C1732.5,588.0 1739.5,585.7 1745.6,584.1 C1751.7,582.5 1758.1,581.9 1763.9,581.4 C1769.7,580.9 1774.5,580.9 1780.6,581.1 C1786.7,581.3 1797.3,582.2 1800.6,582.4" fill="none" stroke="#0a0a0a" stroke-width="2.3"/>
<text transform="translate(1261,695) rotate(-90)" font-size="27" class="se" text-anchor="middle">Droplet diameter  [µm]</text>
<text x="1435.2" y="909.6" font-size="24" class="sbi" style="fill:#e8141c"><tspan>t</tspan><tspan font-size="16" dy="4">o</tspan></text>
<text x="1748.9" y="909.6" font-size="24" class="sbi" style="fill:#e8141c"><tspan>t</tspan><tspan font-size="16" dy="4">b</tspan></text>
<text x="1535" y="909.5" font-size="23.5" class="se" textLength="64" lengthAdjust="spacingAndGlyphs"><tspan font-style="italic">t</tspan><tspan font-style="italic" font-size="16" dy="4.5">o</tspan><tspan dy="-4.5"> + 10</tspan></text>
<text x="1659.5" y="909.5" font-size="23.5" class="se" textLength="64.6" lengthAdjust="spacingAndGlyphs"><tspan font-style="italic">t</tspan><tspan font-style="italic" font-size="16" dy="4.5">o</tspan><tspan dy="-4.5"> + 20</tspan></text>
<text x="1417.8" y="944.2" font-size="28" class="se" textLength="343" lengthAdjust="spacingAndGlyphs">Time of <tspan font-style="italic">Q</tspan><tspan font-style="italic" font-size="18" dy="5">o</tspan><tspan dy="-5">/</tspan><tspan font-style="italic">Q</tspan><tspan font-style="italic" font-size="18" dy="5">w</tspan><tspan dy="-5"> change (</tspan><tspan font-style="italic">t</tspan><tspan font-style="italic" font-size="18" dy="5">c</tspan><tspan dy="-5">) [ms]</tspan></text>
<g id="schem">
<rect x="127.5" y="568" width="56" height="200" fill="#dde5e6"/>
<path d="M182.2,641 A16,16 0 0 0 214.2,641 V630 C214.2,619 219.5,610.6 231,610.6 H464.5 V736 H231 C219.5,736 214.2,727.5 214.2,716.5 V705.4 A16,16 0 0 0 182.2,705.4 z" fill="#dde5e6"/>
<path d="M64,636.8 H127.5 C137,641 163,654 176,661.2 C183,665.5 189,669.5 189,673.6 C189,677.7 183,681.7 176,686 C163,693 137,706 127.5,710.4 H64 z" fill="#e457da"/>
<path d="M64,636.8 H127.5 C137,641 163,654 176,661.2 C183,665.5 189,669.5 189,673.6 C189,677.7 183,681.7 176,686 C163,693 137,706 127.5,710.4 H64" fill="none" stroke="#111" stroke-width="2.2" stroke-linejoin="round"/>
<path d="M127.5,568 V636.8 M127.5,710.8 V768" stroke="#111" stroke-width="2.2" fill="none"/>
<path d="M182.2,568 V641 A16,16 0 0 0 214.2,641 V630 C214.2,619 219.5,610.6 231,610.6 H464.5" stroke="#111" stroke-width="2.2" fill="none"/>
<path d="M182.2,768 V705.4 A16,16 0 0 1 214.2,705.4 V716.5 C214.2,727.5 219.5,736 231,736 H464.5" stroke="#111" stroke-width="2.2" fill="none"/>
<clipPath id="clipch"><rect x="200" y="600" width="264.5" height="150"/></clipPath>
<g clip-path="url(#clipch)"><circle cx="304.5" cy="673" r="50.8" fill="#e457da" stroke="#111" stroke-width="2.6"/><circle cx="488.3" cy="673" r="50.8" fill="#e457da" stroke="#111" stroke-width="2.6"/></g>
<path d="M250.8,552 V670.8 M434.5,555 V673.8" stroke="#222" stroke-width="1" fill="none"/>
<line x1="251.5" x2="433.8" y1="573" y2="573" stroke="#111" stroke-width="1.5" marker-start="url(#ah)" marker-end="url(#ah)"/>
<text x="300.8" y="563.8" font-size="22.7" class="se" >Spacing</text>
<line x1="304.5" x2="304.5" y1="595" y2="758.8" stroke="#4a5fd2" stroke-opacity="0.8" stroke-width="1.2" stroke-dasharray="6.5,2.2,1.4,2.3"/>
<text x="285.0" y="598.8" font-size="20" class="se" >A</text>
<path d="M281.5,600.8 H303.5 M297.3,597.5 L303.8,600.8 L297.3,604.1" stroke="#2f55c8" stroke-width="1.35" fill="none"/>
<text x="285.0" y="756.3" font-size="20" class="se" >A</text>
<path d="M281.5,758.0 H303.5 M297.3,754.7 L303.8,758.0 L297.3,761.3" stroke="#2f55c8" stroke-width="1.35" fill="none"/>
<line x1="395.8" x2="395.8" y1="611.6" y2="735" stroke="#111" stroke-width="1.5" marker-start="url(#ah)" marker-end="url(#ah)"/>
<text x="401.0" y="677.5" font-size="23" class="si">w<tspan font-size="16.1" dy="5.0">e</tspan></text>
<text x="111.0" y="681.7" font-size="23" class="si">w<tspan font-size="16.1" dy="5.0">w</tspan></text>
<text x="146.3" y="613.8" font-size="22.5" class="si">w<tspan font-size="15.7" dy="5.5">o</tspan></text>
<text x="204.0" y="677.3" font-size="23" class="si">w<tspan font-size="16.1" dy="5.0">n</tspan></text>
<line x1="107" x2="107" y1="638" y2="709.4" stroke="#111" stroke-width="1.5" marker-start="url(#ah)" marker-end="url(#ah)"/>
<line x1="128.8" x2="180.7" y1="619.5" y2="619.5" stroke="#111" stroke-width="1.2" marker-start="url(#ah)" marker-end="url(#ah)"/>
<line x1="199.6" x2="199.6" y1="659.5" y2="687.6" stroke="#111" stroke-width="1.2" marker-start="url(#ah)" marker-end="url(#ah)"/>
<text x="168.8" y="556.3" font-size="23.5" class="sbi">Q<tspan font-size="15.5" dy="3">o</tspan></text>
<text x="166.3" y="785.0" font-size="23.5" class="sbi">Q<tspan font-size="15.5" dy="3">o</tspan></text>
<text x="37.5" y="660.0" font-size="23.5" class="sbi">Q<tspan font-size="15.5" dy="3">w</tspan></text>
<path d="M152.5,550.5 H160 V577.5 H165 L156.2,589.5 L147.5,577.5 H152.5 z" fill="#0a0a0a"/>
<path d="M152.5,748.8 L162,762.5 H157 V790.8 H147.5 V762.5 H143 z" fill="#0a0a0a"/>
<path d="M33.1,666.9 H71.8 V662.4 L86.1,671.4 L71.8,680.4 V675.6 H33.1 z" fill="#0a0a0a"/>
<line x1="226.3" y1="773.8" x2="197.8" y2="692" stroke="#222" stroke-width="1" marker-end="url(#aho)"/>
<text x="220.8" y="793.3" font-size="22.7" class="se" >Nozzle</text>
<line x1="275" y1="633" x2="323.3" y2="718.6" stroke="#111" stroke-width="1.6" marker-start="url(#ah)" marker-end="url(#ah)"/>
<path d="M323.3,718.6 L360,785 H375" stroke="#222" stroke-width="1" fill="none"/>
<text x="379.6" y="790.8" font-size="22.7" class="se" >Diameter</text>
<rect x="542.7" y="611" width="69.8" height="129.8" fill="#dde5e6" stroke="#111" stroke-width="2"/>
<ellipse cx="577.6" cy="676.6" rx="32.4" ry="52.2" fill="#d551c6" stroke="#111" stroke-width="2"/>
<text x="572.8" y="582.5" font-size="24" class="si" >d</text>
<line x1="543.5" x2="614.5" y1="589.5" y2="589.5" stroke="#111" stroke-width="1.2" marker-start="url(#ah)" marker-end="url(#ah)"/>
<text x="528.5" y="782.7" font-size="23" class="se" >Section A-A</text>
</g>
<defs>
<filter id="bl" x="-10%" y="-10%" width="120%" height="120%"><feGaussianBlur stdDeviation="1.6"/></filter>
<filter id="bl2" x="-10%" y="-10%" width="120%" height="120%"><feGaussianBlur stdDeviation="0.9"/></filter>
<linearGradient id="rface" gradientUnits="userSpaceOnUse" x1="455" y1="465" x2="560" y2="330"><stop offset="0" stop-color="#e3e4ea"/><stop offset="0.45" stop-color="#c7c8d1"/><stop offset="1" stop-color="#b4b5c1"/></linearGradient>
<linearGradient id="fface" gradientUnits="userSpaceOnUse" x1="170" y1="350" x2="452" y2="452"><stop offset="0" stop-color="#b3b4bf"/><stop offset="1" stop-color="#bfc0ca"/></linearGradient>
</defs>
<g id="dev3d" stroke-linejoin="round">
<path d="M169.7,335.1 L135.5,379.5 L137,410 L459.5,526.3 L456.3,493.8 L135.5,379.5 M456.3,493.8 L608.8,314.5 L610.5,345 L459.5,526.3 M608.8,314.5 L573.9,303.3" fill="none" stroke="#1a1a1a" stroke-width="1.1"/>
<polygon points="169.7,335.1 289.0,195.0 573.8,291.3 451.5,436.0" fill="#c6c7d0"/>
<polygon points="190.8,342.7 290.0,222.5 563.5,304.5 451.5,436.0" fill="#dcdee6"/>
<polygon points="169.7,335.1 451.5,436.0 452.5,468.5 171.3,366.3" fill="url(#fface)"/>
<polygon points="169.7,335.1 196.0,344.5 171.3,366.3" fill="#a9aab6"/>
<polygon points="451.5,436.0 573.8,291.3 574.8,322.0 452.5,468.5" fill="url(#rface)"/>
<path d="M169.7,335.1 L289,195 L573.8,291.3 L451.5,436 z M169.7,335.1 L171.3,366.3 L452.5,468.5 L451.5,436 M452.5,468.5 L574.8,322 L573.8,291.3" fill="none" stroke="#15151a" stroke-width="1.2"/>
<path d="M313,287.5 L346,297.5 C362,302.5 375.5,313 375,330 L373.5,337.5" transform="translate(0,1.6)" fill="none" stroke="#0b1a36" stroke-width="8.9" stroke-linecap="round"/>
<path d="M313,287.5 L346,297.5 C362,302.5 375.5,313 375,330 L373.5,337.5" fill="none" stroke="#0b1a36" stroke-width="8.3" stroke-linecap="round"/>
<path d="M313,287.5 L346,297.5 C362,302.5 375.5,313 375,330 L373.5,337.5" fill="none" stroke="#37a8e6" stroke-width="6.3" stroke-linecap="round"/>
<path d="M266,344.5 L300,356 C325,364.5 352,358 371.5,343" transform="translate(0,1.6)" fill="none" stroke="#0b1a36" stroke-width="8.9" stroke-linecap="round"/>
<path d="M266,344.5 L300,356 C325,364.5 352,358 371.5,343" fill="none" stroke="#0b1a36" stroke-width="8.3" stroke-linecap="round"/>
<path d="M266,344.5 L300,356 C325,364.5 352,358 371.5,343" fill="none" stroke="#37a8e6" stroke-width="6.3" stroke-linecap="round"/>
<path d="M372.6,340 L379.5,335.8 L478,373.5 L481,392 L470,394 L371.5,351.8 z" fill="#0b1a36"/>
<path d="M374,341 L380,337.3 L476,374.5 L477,388 L470,389.5 L373.3,348.6 z" fill="#37a8e6"/>
<ellipse cx="402.5" cy="351.3" rx="8" ry="6.3" transform="rotate(12 402.5 351.3)" fill="#e6123e" stroke="#3a0a18" stroke-width="0.8"/>
<ellipse cx="429.3" cy="361.3" rx="8" ry="6.3" transform="rotate(12 429.3 361.3)" fill="#e6123e" stroke="#3a0a18" stroke-width="0.8"/>
<ellipse cx="456.3" cy="370.3" rx="8" ry="6.3" transform="rotate(12 456.3 370.3)" fill="#e6123e" stroke="#3a0a18" stroke-width="0.8"/>
<polygon points="290.0,317.5 355.0,337.5 371.3,340.0 357.0,342.5 289.0,322.0" fill="#8e0d26"/>
<polygon points="295.0,311.3 365.0,333.8 372.0,340.3 355.0,337.5 289.5,317.5" fill="#e6123e" stroke="#5a0a1a" stroke-width="0.7"/>
<ellipse cx="308.8" cy="289.2" rx="11.3" ry="4" fill="#1b2a4a" stroke="#0d0f18" stroke-width="1"/>
<ellipse cx="286.0" cy="317.7" rx="11.3" ry="4" fill="#1b2a4a" stroke="#0d0f18" stroke-width="1"/>
<ellipse cx="261.2" cy="345.7" rx="11.3" ry="4" fill="#1b2a4a" stroke="#0d0f18" stroke-width="1"/>
<ellipse cx="477.5" cy="389.7" rx="11.3" ry="4" fill="#1b2a4a" stroke="#0d0f18" stroke-width="1"/>
<mask id="tm1" maskUnits="userSpaceOnUse" x="0" y="0" width="2086" height="967"><path d="M168.8,135.4 L262,169.5 Q300,183 303.2,212 L308.8,288" fill="none" stroke="#fff" stroke-width="20.4"/><ellipse cx="168.8" cy="135.4" rx="3.2" ry="10.2" transform="rotate(20 168.8 135.4)" fill="#fff"/></mask>
<path d="M168.8,135.4 L262,169.5 Q300,183 303.2,212 L308.8,288" fill="none" stroke="#101116" stroke-width="23.2"/><ellipse cx="168.8" cy="135.4" rx="4.5" ry="11.6" transform="rotate(20 168.8 135.4)" fill="#101116"/>
<path d="M168.8,135.4 L262,169.5 Q300,183 303.2,212 L308.8,288" fill="none" stroke="#2a2c38" stroke-width="20.4"/><ellipse cx="168.8" cy="135.4" rx="3.2" ry="10.2" transform="rotate(20 168.8 135.4)" fill="#2a2c38"/>
<g mask="url(#tm1)" fill="none"><g filter="url(#bl)">
<path d="M303.5,215 L308.6,284" transform="translate(3.4,0)" stroke="#474a5d" stroke-width="8"/>
<path d="M165,134 L262,169.5 Q296,181.5 301.5,206" transform="translate(0.8,-2.2)" stroke="#6b7089" stroke-width="17.5"/>
<path d="M165,134 L262,169.5 Q296,181.5 301.5,206" transform="translate(2.0,-5.6)" stroke="#bec3db" stroke-width="11"/>
</g>
<path d="M235,159.5 L262,169.5 Q282,177 290,186" transform="translate(2.0,-5.6)" stroke="#e2e5f2" stroke-width="2.6" filter="url(#bl2)"/>
</g>
<mask id="tm2" maskUnits="userSpaceOnUse" x="0" y="0" width="2086" height="967"><path d="M144.6,164.2 L232,196 Q274,211 277.3,240 L286,316.5" fill="none" stroke="#fff" stroke-width="20.4"/><ellipse cx="144.6" cy="164.2" rx="3.2" ry="10.2" transform="rotate(20 144.6 164.2)" fill="#fff"/></mask>
<path d="M144.6,164.2 L232,196 Q274,211 277.3,240 L286,316.5" fill="none" stroke="#101116" stroke-width="23.2"/><ellipse cx="144.6" cy="164.2" rx="4.5" ry="11.6" transform="rotate(20 144.6 164.2)" fill="#101116"/>
<path d="M144.6,164.2 L232,196 Q274,211 277.3,240 L286,316.5" fill="none" stroke="#2a2c38" stroke-width="20.4"/><ellipse cx="144.6" cy="164.2" rx="3.2" ry="10.2" transform="rotate(20 144.6 164.2)" fill="#2a2c38"/>
<g mask="url(#tm2)" fill="none"><g filter="url(#bl)">
<path d="M277.6,243 L285.7,312" transform="translate(3.4,0)" stroke="#474a5d" stroke-width="8"/>
<path d="M141,162.9 L232,196 Q270,209.5 275.5,234" transform="translate(0.8,-2.2)" stroke="#6b7089" stroke-width="17.5"/>
<path d="M141,162.9 L232,196 Q270,209.5 275.5,234" transform="translate(2.0,-5.6)" stroke="#bec3db" stroke-width="11"/>
</g>
<path d="M205,186 L232,196 Q255,204 264,213" transform="translate(2.0,-5.6)" stroke="#e2e5f2" stroke-width="2.6" filter="url(#bl2)"/>
</g>
<mask id="tm3" maskUnits="userSpaceOnUse" x="0" y="0" width="2086" height="967"><path d="M120.9,192.6 L205,223 Q250,238 252.8,268 L261.2,344.5" fill="none" stroke="#fff" stroke-width="20.4"/><ellipse cx="120.9" cy="192.6" rx="3.2" ry="10.2" transform="rotate(20 120.9 192.6)" fill="#fff"/></mask>
<path d="M120.9,192.6 L205,223 Q250,238 252.8,268 L261.2,344.5" fill="none" stroke="#101116" stroke-width="23.2"/><ellipse cx="120.9" cy="192.6" rx="4.5" ry="11.6" transform="rotate(20 120.9 192.6)" fill="#101116"/>
<path d="M120.9,192.6 L205,223 Q250,238 252.8,268 L261.2,344.5" fill="none" stroke="#2a2c38" stroke-width="20.4"/><ellipse cx="120.9" cy="192.6" rx="3.2" ry="10.2" transform="rotate(20 120.9 192.6)" fill="#2a2c38"/>
<g mask="url(#tm3)" fill="none"><g filter="url(#bl)">
<path d="M253,271 L261,340" transform="translate(3.4,0)" stroke="#474a5d" stroke-width="8"/>
<path d="M117,191.2 L205,223 Q246,236.5 251,262" transform="translate(0.8,-2.2)" stroke="#6b7089" stroke-width="17.5"/>
<path d="M117,191.2 L205,223 Q246,236.5 251,262" transform="translate(2.0,-5.6)" stroke="#bec3db" stroke-width="11"/>
</g>
<path d="M180,214 L205,223 Q228,231 239,240" transform="translate(2.0,-5.6)" stroke="#e2e5f2" stroke-width="2.6" filter="url(#bl2)"/>
</g>
<mask id="tm4" maskUnits="userSpaceOnUse" x="0" y="0" width="2086" height="967"><path d="M477.5,388 L474.2,303 Q473.3,284.5 491,289.3 L603,325.3" fill="none" stroke="#fff" stroke-width="20.4"/></mask>
<path d="M477.5,388 L474.2,303 Q473.3,284.5 491,289.3 L603,325.3" fill="none" stroke="#101116" stroke-width="23.2"/>
<path d="M477.5,388 L474.2,303 Q473.3,284.5 491,289.3 L603,325.3" fill="none" stroke="#2a2c38" stroke-width="20.4"/>
<g mask="url(#tm4)" fill="none"><g filter="url(#bl)">
<path d="M474.5,305 L477.3,384" transform="translate(3.4,0)" stroke="#474a5d" stroke-width="8"/>
<path d="M477,300 Q475.5,287 491,289.3 L606,326.2" transform="translate(0.8,-2.2)" stroke="#6b7089" stroke-width="17.5"/>
<path d="M477,300 Q475.5,287 491,289.3 L606,326.2" transform="translate(2.0,-5.6)" stroke="#bec3db" stroke-width="11"/>
</g>
<path d="M490,289 L540,305" transform="translate(2.0,-5.6)" stroke="#e2e5f2" stroke-width="2.6" filter="url(#bl2)"/>
</g>
<ellipse cx="603.2" cy="325.6" rx="4.6" ry="10.8" transform="rotate(17 603.2 325.6)" fill="#9398b3" stroke="#14151b" stroke-width="1.3"/>
<ellipse cx="603.6" cy="325.8" rx="2.6" ry="6.6" transform="rotate(17 603.6 325.8)" fill="#e4e6f0" stroke="#50546a" stroke-width="0.8"/>
<path d="M133.0,132.4 H159.5 M150.0,126.1 L161.5,132.4 L150.0,138.7" fill="none" stroke="#1aa8c9" stroke-width="3.0" stroke-linecap="butt" stroke-linejoin="miter"/>
<path d="M85.0,189.8 H113.0 M103.5,183.5 L115.0,189.8 L103.5,196.1" fill="none" stroke="#1aa8c9" stroke-width="3.0" stroke-linecap="butt" stroke-linejoin="miter"/>
<path d="M114.3,162.2 H135.5 M126.0,156.2 L137.5,162.2 L126.0,168.2" fill="none" stroke="#e8123e" stroke-width="3.2" stroke-linecap="butt" stroke-linejoin="miter"/>
<path d="M604.0,326.5 H644.5 M628.5,317.0 L646.5,326.5 L628.5,336.0" fill="none" stroke="#12921a" stroke-width="4.3" stroke-linecap="butt" stroke-linejoin="miter"/>
<line x1="455" y1="222.5" x2="383.8" y2="328.8" stroke="#222" stroke-width="1" marker-end="url(#aho)"/>
<line x1="96" y1="403" x2="221.3" y2="336.3" stroke="#222" stroke-width="1" marker-end="url(#aho)"/>
<line x1="230" y1="472.5" x2="287" y2="449.3" stroke="#222" stroke-width="1" marker-end="url(#aho)"/>
<text x="428.2" y="216.0" font-size="24" class="se" >Nozzle</text>
<text x="614.0" y="360.2" font-size="24" class="se" >Outlet</text>
<text x="26.5" y="403.1" font-size="24" class="se" >PDMS</text>
<text x="26.3" y="432.7" font-size="24" class="se" >Substrate</text>
<text x="133.5" y="494.1" font-size="24" class="se" >Glass slide</text>
<text x="53.7" y="136.8" font-size="24" class="se" >Oil inlet</text>
<text x="5.4" y="167.5" font-size="24" class="se" >Water inlet</text>
<text x="6.8" y="196.5" font-size="24" class="se" >Oil inlet</text>
</g>
</svg>
</body></html>
